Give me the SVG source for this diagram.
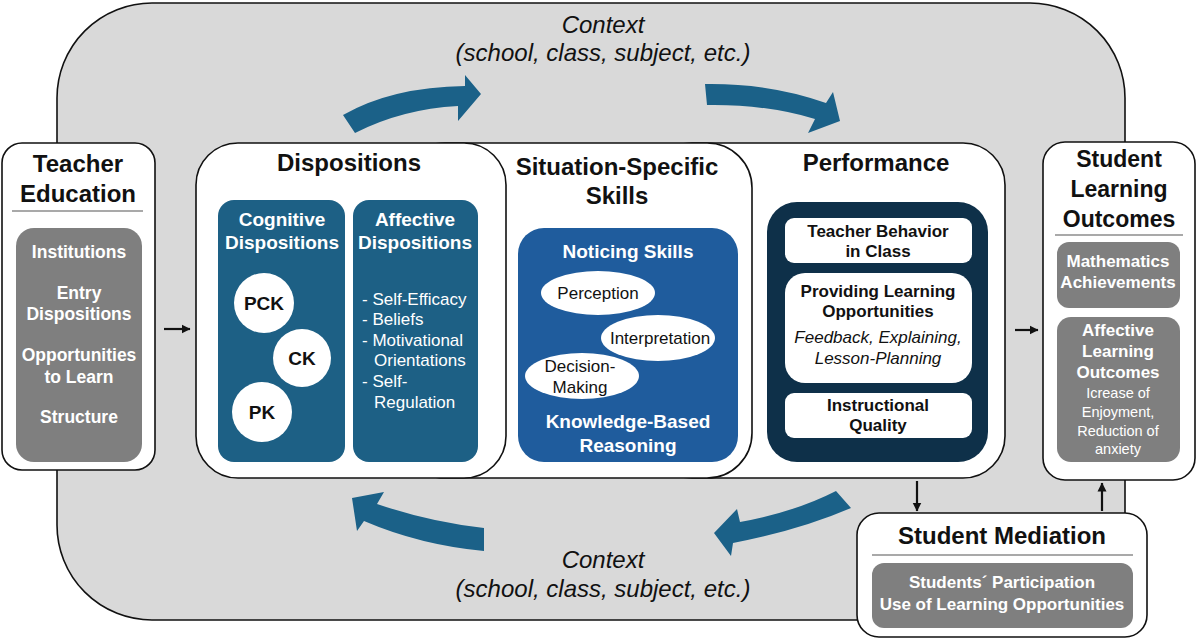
<svg xmlns="http://www.w3.org/2000/svg" width="1200" height="643" viewBox="0 0 1200 643">
<defs>
<style>
text{font-family:"Liberation Sans",Arial,sans-serif}
.box{fill:#fff;stroke:#111;stroke-width:1.6}
.ttl{font-size:24px;font-weight:bold;fill:#111;text-anchor:middle}
.w{fill:#fff;text-anchor:middle;font-weight:bold;font-size:17px}
.wr{fill:#fff;font-size:17px}
.gbox{fill:#7f7f7f}
.sep{stroke:#8c8c8c;stroke-width:1.6}
.teal{fill:#1d6085}
.ctx{font-size:24px;font-style:italic;fill:#111;text-anchor:middle}
.carrow{fill:#1b6188}
.lnk{stroke:#111;stroke-width:2.2;fill:none;marker-end:url(#ah)}
.blk{fill:#111;text-anchor:middle;font-size:17px}
.b{font-weight:bold}
.circ{fill:#fff}
.ell{fill:#fff}
</style>
<marker id="ah" markerWidth="10" markerHeight="10" refX="8.5" refY="5" orient="auto" markerUnits="userSpaceOnUse">
<path d="M0,0.5 L9,5 L0,9.5 Z" fill="#111"/>
</marker>
</defs>

<g id="context">
<rect x="57" y="3" width="1068" height="617" rx="95" fill="#d9d9d9" stroke="#111" stroke-width="1.6"/>
<text class="ctx" x="603" y="33">Context</text>
<text class="ctx" x="603" y="61">(school, class, subject, etc.)</text>
<text class="ctx" x="603" y="568">Context</text>
<text class="ctx" x="603" y="597">(school, class, subject, etc.)</text>
</g>

<g id="cycle-arrows">
<path class="carrow" d="M343,115 Q392,87 465,86 L465,75 L481,94 L458,121 L458,106 Q402,109 355,133 Z"/>
<path class="carrow" d="M705,84 Q770,83 826,103 L833,92 L840,121 L808,133 L815,119 Q765,104 707,105 Z"/>
<path class="carrow" d="M836,491 L851,508 Q800,530 733,543 L731,556 L714,533 L737,509 L740,522 Q795,512 836,491 Z"/>
<path class="carrow" d="M484,528 Q430,522 377,504 L384,492 L352,498 L357,531 L364,521 Q420,545 484,551 Z"/>
</g>

<g id="teacher-education">
<rect class="box" x="2" y="143" width="153" height="327" rx="20"/>
<text class="ttl" x="78" y="172">Teacher</text>
<text class="ttl" x="78" y="202">Education</text>
<line class="sep" x1="12" y1="211" x2="143" y2="211"/>
<rect class="gbox" x="16" y="228" width="126" height="234" rx="18"/>
<text class="w" x="79" y="258" style="font-size:17.5px">Institutions</text>
<text class="w" x="79" y="299" style="font-size:17.5px">Entry</text>
<text class="w" x="79" y="320" style="font-size:17.5px">Dispositions</text>
<text class="w" x="79" y="361" style="font-size:17.5px">Opportunities</text>
<text class="w" x="79" y="383" style="font-size:17.5px">to Learn</text>
<text class="w" x="79" y="423" style="font-size:17.5px">Structure</text>
</g>

<g id="performance">
<rect class="box" x="650" y="143" width="355" height="335" rx="42"/>
<text class="ttl" x="876" y="171">Performance</text>
<rect x="767" y="202" width="221" height="260" rx="30" fill="#0e3049"/>
<rect x="785" y="218" width="187" height="45" rx="9" fill="#fff"/>
<rect x="785" y="273" width="187" height="110" rx="20" fill="#fff"/>
<rect x="785" y="393" width="187" height="45" rx="9" fill="#fff"/>
<text class="blk b" x="878" y="237">Teacher Behavior</text>
<text class="blk b" x="878" y="257">in Class</text>
<text class="blk b" x="878" y="297">Providing Learning</text>
<text class="blk b" x="878" y="317">Opportunities</text>
<text class="blk" x="878" y="343" font-style="italic">Feedback, Explaining,</text>
<text class="blk" x="878" y="364" font-style="italic">Lesson-Planning</text>
<text class="blk b" x="878" y="411">Instructional</text>
<text class="blk b" x="878" y="431">Quality</text>
</g>

<g id="situation-specific-skills">
<rect class="box" x="400" y="143" width="352" height="335" rx="45"/>
<text class="ttl" x="617" y="175">Situation-Specific</text>
<text class="ttl" x="617" y="204">Skills</text>
<rect x="518" y="228" width="220" height="234" rx="26" fill="#1f5c9d"/>
<text class="w" x="628" y="258" style="font-size:19px">Noticing Skills</text>
<ellipse class="ell" cx="598" cy="293" rx="57" ry="22"/>
<ellipse class="ell" cx="658" cy="338" rx="57" ry="23"/>
<ellipse class="ell" cx="582" cy="376" rx="57" ry="23"/>
<text class="blk" x="598" y="299">Perception</text>
<text class="blk" x="660" y="344">Interpretation</text>
<text class="blk" x="580" y="372">Decision-</text>
<text class="blk" x="580" y="393">Making</text>
<text class="w" x="628" y="428" style="font-size:19px">Knowledge-Based</text>
<text class="w" x="628" y="452" style="font-size:19px">Reasoning</text>
</g>

<g id="dispositions">
<rect class="box" x="196" y="143" width="310" height="335" rx="42"/>
<text class="ttl" x="349" y="171">Dispositions</text>
<rect class="teal" x="218" y="200" width="127" height="262" rx="16"/>
<rect class="teal" x="353" y="200" width="125" height="262" rx="16"/>
<text class="w" x="282" y="226" style="font-size:19px">Cognitive</text>
<text class="w" x="282" y="249" style="font-size:19px">Dispositions</text>
<text class="w" x="415" y="226" style="font-size:19px">Affective</text>
<text class="w" x="415" y="249" style="font-size:19px">Dispositions</text>
<circle class="circ" cx="264" cy="303" r="30"/>
<circle class="circ" cx="302" cy="358" r="29"/>
<circle class="circ" cx="262" cy="412" r="30"/>
<text class="blk b" x="264" y="310" style="font-size:19px">PCK</text>
<text class="blk b" x="302" y="365" style="font-size:19px">CK</text>
<text class="blk b" x="262" y="419" style="font-size:19px">PK</text>
<text class="wr" x="362" y="305">- Self-Efficacy</text>
<text class="wr" x="362" y="325">- Beliefs</text>
<text class="wr" x="362" y="346">- Motivational</text>
<text class="wr" x="374" y="366">Orientations</text>
<text class="wr" x="362" y="387">- Self-</text>
<text class="wr" x="374" y="408">Regulation</text>
</g>

<g id="student-learning-outcomes">
<rect class="box" x="1043" y="142" width="152" height="338" rx="22"/>
<text class="ttl" x="1119" y="167" style="font-size:23px">Student</text>
<text class="ttl" x="1119" y="197" style="font-size:23px">Learning</text>
<text class="ttl" x="1119" y="227" style="font-size:23px">Outcomes</text>
<line class="sep" x1="1055" y1="235" x2="1183" y2="235"/>
<rect class="gbox" x="1057" y="242" width="123" height="66" rx="12"/>
<text class="w" x="1118" y="267">Mathematics</text>
<text class="w" x="1118" y="288">Achievements</text>
<rect class="gbox" x="1057" y="317" width="123" height="145" rx="14"/>
<text class="w" x="1118" y="336">Affective</text>
<text class="w" x="1118" y="357">Learning</text>
<text class="w" x="1118" y="378">Outcomes</text>
<text class="w" x="1118" y="398" style="font-size:14.5px;font-weight:normal">Icrease of</text>
<text class="w" x="1118" y="417" style="font-size:14.5px;font-weight:normal">Enjoyment,</text>
<text class="w" x="1118" y="436" style="font-size:14.5px;font-weight:normal">Reduction of</text>
<text class="w" x="1118" y="454" style="font-size:14.5px;font-weight:normal">anxiety</text>
</g>

<g id="student-mediation">
<rect class="box" x="857" y="513" width="290" height="124" rx="22"/>
<text class="ttl" x="1002" y="544">Student Mediation</text>
<line class="sep" x1="872" y1="555" x2="1133" y2="555"/>
<rect class="gbox" x="872" y="563" width="261" height="65" rx="12"/>
<text class="w" x="1002" y="588">Students´ Participation</text>
<text class="w" x="1002" y="610">Use of Learning Opportunities</text>
</g>

<g id="connectors">
<line class="lnk" x1="164" y1="329" x2="190" y2="329"/>
<line class="lnk" x1="1015" y1="330" x2="1038" y2="330"/>
<line class="lnk" x1="917" y1="481" x2="917" y2="511"/>
<line class="lnk" x1="1102" y1="511" x2="1102" y2="483"/>
</g>
</svg>
